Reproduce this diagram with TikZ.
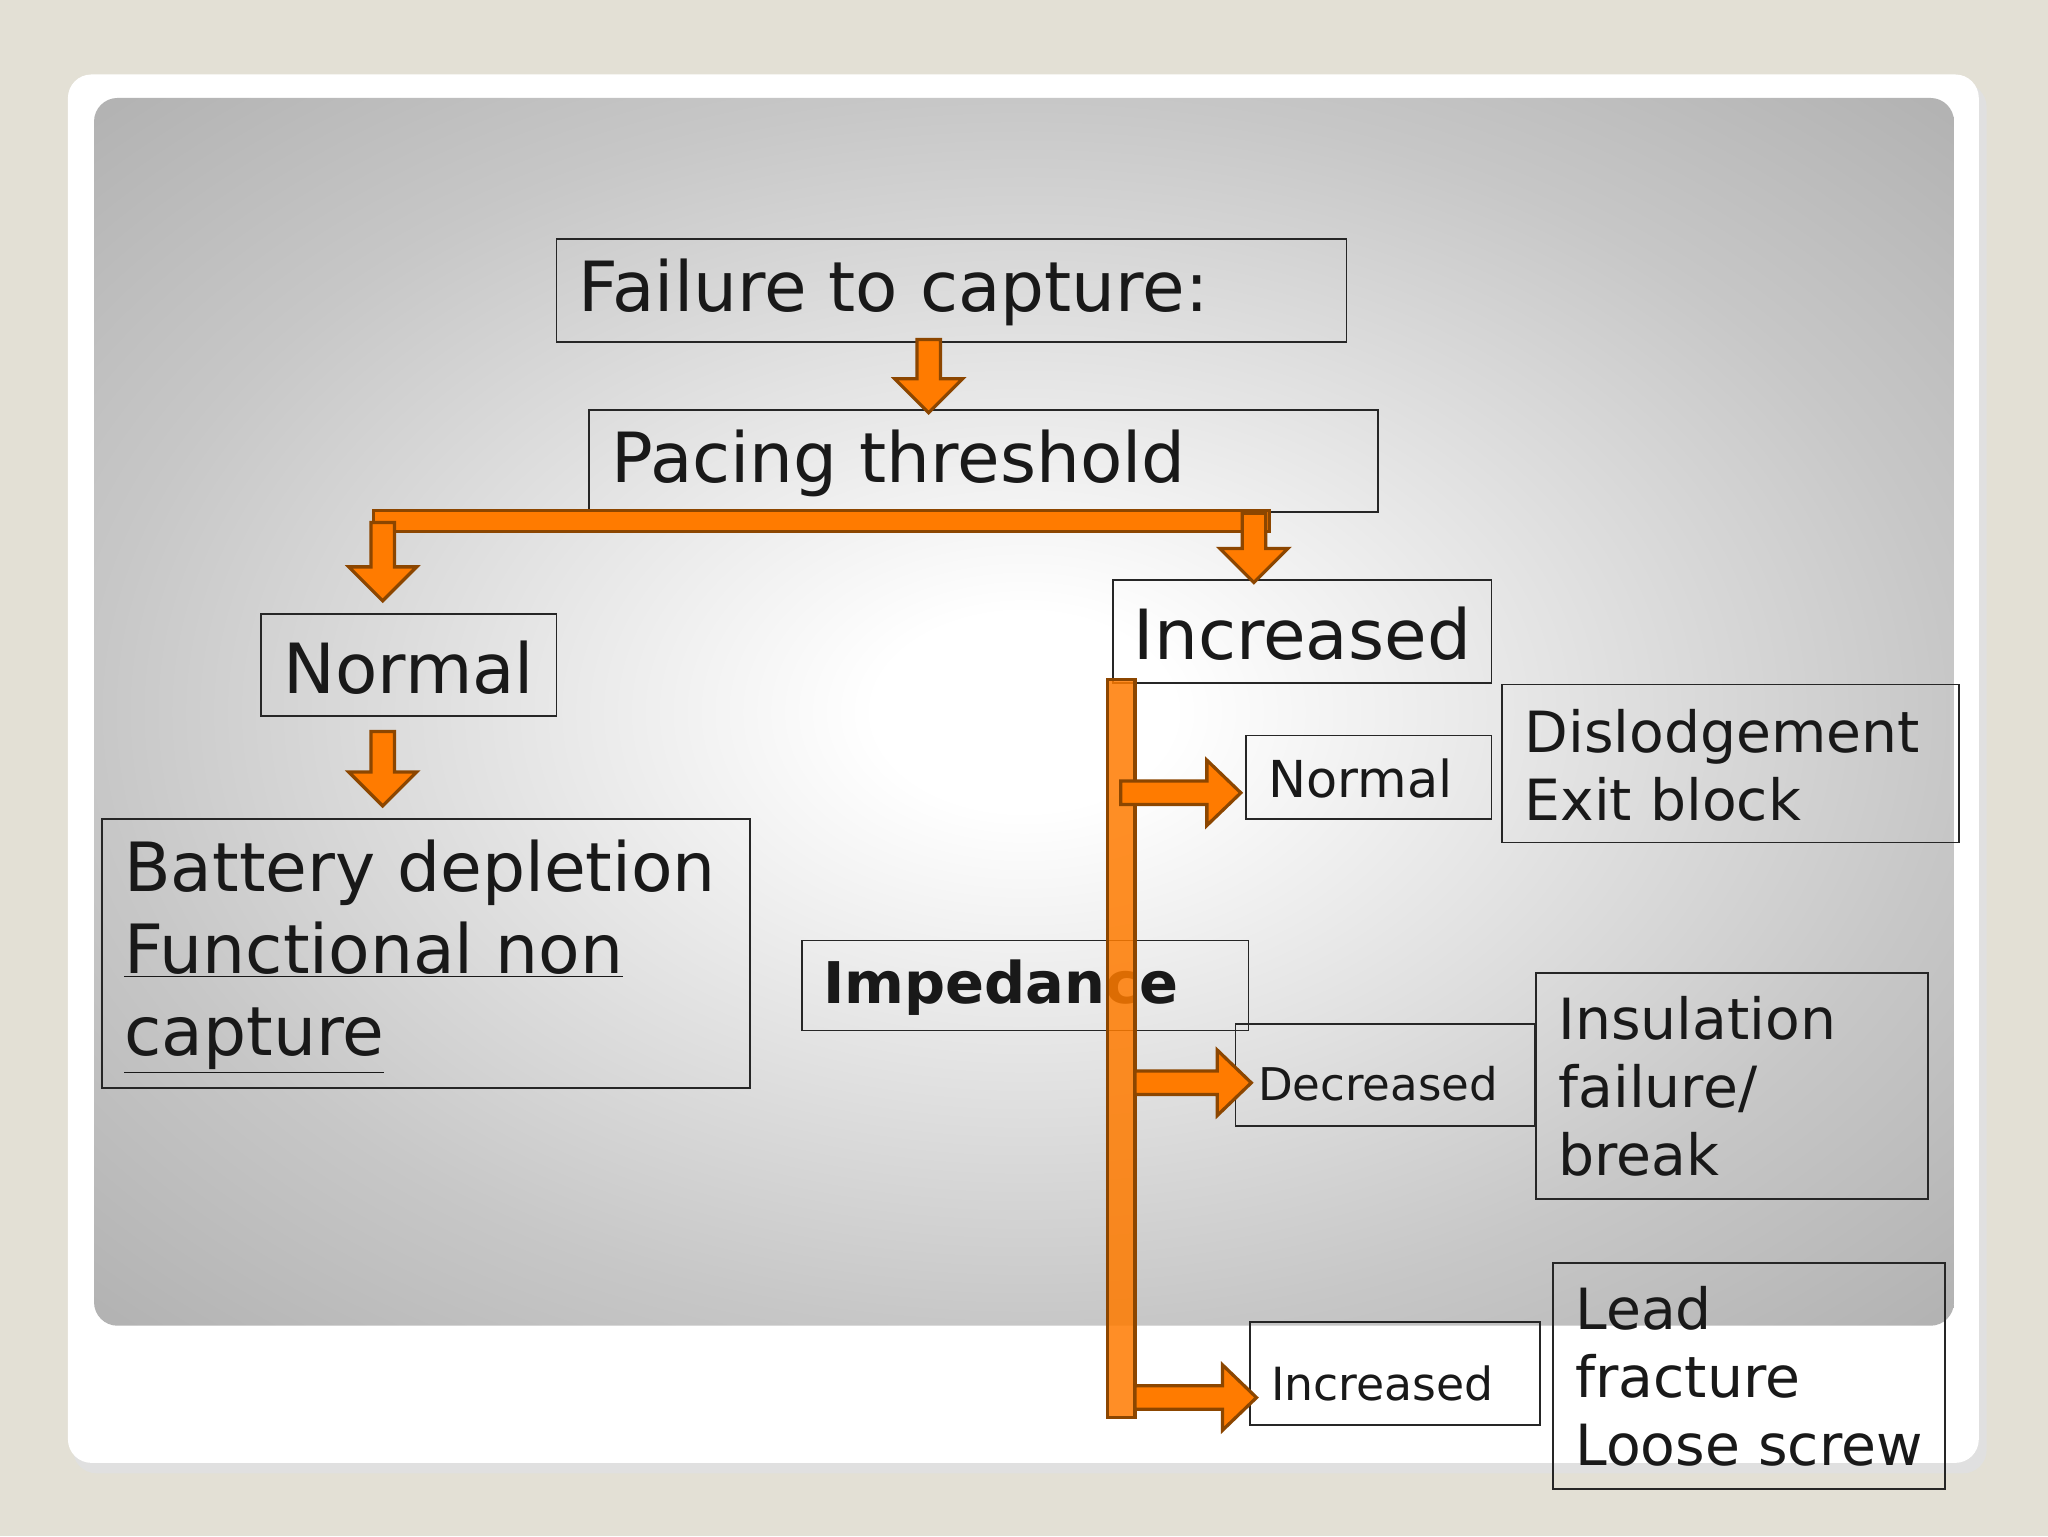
\documentclass[tikz,border=0pt]{standalone}
\usepackage{fontspec}
\setmainfont{DejaVu Sans}
\pgfdeclareradialshading{panel}{\pgfpoint{0bp}{0bp}}{color(0bp)=(white); color(4bp)=(white); color(25bp)=(black!22); color(40bp)=(black!34); color(50bp)=(black!40)}
\begin{document}
\begin{tikzpicture}[x=1pt,y=-1pt,
  box/.style={draw=black!85,line width=1.2pt},
  lbl/.style={anchor=west,inner sep=0pt,align=left,text=black!90},
  arr/.style={fill=orange!85!red!90!yellow,draw=orange!55!black,line width=2.5pt,line join=miter}]
\definecolor{bg}{HTML}{E3E0D5}
\useasboundingbox (0,0) rectangle (1568,1176);
\fill[bg] (0,0) rectangle (1568,1176);
\fill[black!12,rounded corners=18pt] (56,64) rectangle (1521,1128);
\fill[white,rounded corners=18pt] (52,57) rectangle (1515,1120);
\shade[shading=panel,rounded corners=18pt] (72,75) rectangle (1496,1015);
% boxes
\draw[box] (426,183) rectangle (1031,262);
\node[lbl,font=\fontsize{53}{60}\selectfont] (fail) at (443,224) {Failure to capture:};
\draw[box] (451,314) rectangle (1055,392);
\node[lbl,font=\fontsize{53}{60}\selectfont] (pace) at (468,355) {Pacing threshold};
\draw[box] (200,470) rectangle (426,548);
\node[lbl,font=\fontsize{53}{60}\selectfont] (norm) at (217,511) {Normal};
\draw[box] (852,444) rectangle (1142,523);
\node[lbl,font=\fontsize{53}{60}\selectfont] (inc) at (868,485) {Increased};
\draw[box] (78,627) rectangle (574,833);
\node[lbl,font=\fontsize{52}{63}\selectfont] (batt) at (95,732) {Battery depletion\\\underline{Functional non}\\\underline{capture}};
\draw[box] (954,563) rectangle (1142,627);
\node[lbl,font=\fontsize{39}{48}\selectfont] (n2) at (971,596) {Normal};
\draw[box] (1150,524) rectangle (1500,645);
\node[lbl,font=\fontsize{43.5}{52}\selectfont] (dis) at (1167,586) {Dislodgement\\Exit block};
\draw[box] (614,720) rectangle (956,789);
\node[lbl,font=\fontsize{44}{52}\selectfont\bfseries] (imp) at (630,756) {Impedance};
\draw[box] (946,784) rectangle (1175,862);
\node[lbl,font=\fontsize{34.5}{42}\selectfont] (dec) at (963,830) {Decreased};
\draw[box] (1176,745) rectangle (1476,918);
\node[lbl,font=\fontsize{43.5}{52}\selectfont] (ins) at (1193,832) {Insulation\\failure/\\break};
\draw[box] (957,1012) rectangle (1179,1091);
\node[lbl,font=\fontsize{35}{42}\selectfont] (inc2) at (973,1059) {Increased};
\draw[box] (1189,967) rectangle (1489,1140);
\node[lbl,font=\fontsize{43.5}{52}\selectfont] (lead) at (1206,1054) {Lead\\fracture\\Loose screw};
% arrows
\newcommand\darr[3]{\draw[arr] (#1-9,#2) -- (#1+9,#2) -- (#1+9,#3-26) -- (#1+26,#3-26) -- (#1,#3) -- (#1-26,#3-26) -- (#1-9,#3-26) -- cycle;}
\newcommand\rarr[3]{\draw[arr] (#1,#3-9) -- (#2-26,#3-9) -- (#2-26,#3-25) -- (#2,#3) -- (#2-26,#3+25) -- (#2-26,#3+9) -- (#1,#3+9) -- cycle;}
\darr{711}{260}{316}
\draw[arr] (286,391) rectangle (972,407);
\darr{293}{400}{460}
\darr{960}{393}{446}
\darr{293}{560}{617}
\draw[arr,fill opacity=0.85] (848,520) rectangle (869,1085);
\rarr{858}{950}{607}
\rarr{869}{958}{829}
\rarr{869}{962}{1070}
\end{tikzpicture}
\end{document}
